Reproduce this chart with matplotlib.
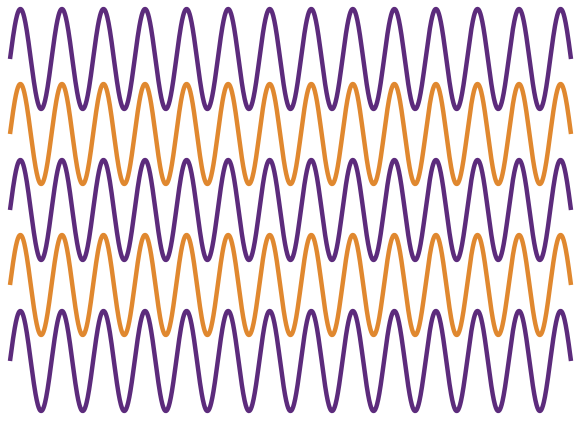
import numpy as np
import matplotlib.pyplot as plt

# wave parameters (pixel units)
centers = [60, 135, 211, 286, 362]
colors = ['#5c2b7c', '#e0882f', '#5c2b7c', '#e0882f', '#5c2b7c']
amplitude = 50
x_start, x_end = 10, 571
n_periods = 13.5

fig = plt.figure(figsize=(5.8, 4.27), dpi=100)
ax = fig.add_axes([0, 0, 1, 1])

x = np.linspace(x_start, x_end, 2000)
period = (x_end - x_start) / n_periods
for c, col in zip(centers, colors):
    y = c - amplitude * np.sin(2 * np.pi * (x - x_start) / period)
    ax.plot(x, y, color=col, lw=3.2, solid_capstyle='butt')

ax.set_xlim(0, 580)
ax.set_ylim(427, 0)
ax.axis('off')

fig.savefig('out.png', dpi=100)
